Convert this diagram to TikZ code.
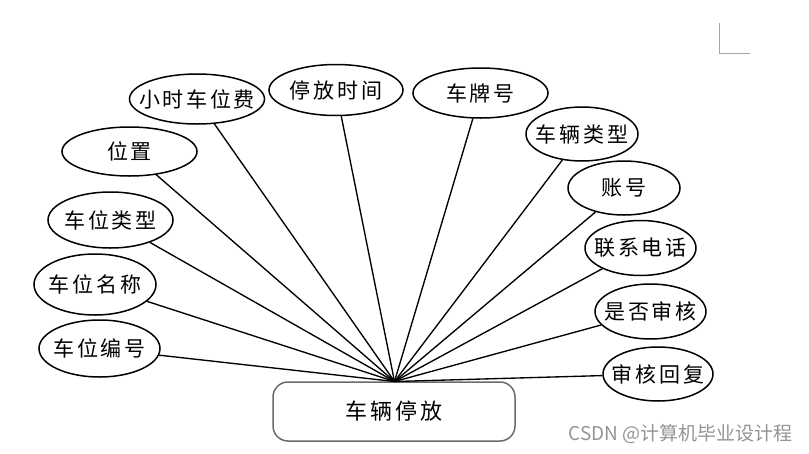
\documentclass[tikz,border=0pt]{standalone}
\usepackage{fontspec}
\newfontfamily\cjk{Noto Sans CJK SC}
\newfontfamily\cjksp[LetterSpace=13]{Noto Sans CJK SC}
\usetikzlibrary{shapes.geometric}
\begin{document}
\begin{tikzpicture}[x=1pt,y=-1pt,
  attr/.style={ellipse, draw, line width=1.5pt, inner sep=0pt, fill=white,
    font=\cjksp\fontsize{21}{22}\selectfont},
  entity/.style={rectangle, rounded corners=15pt, draw=black!58, line width=1.5pt,
    inner sep=0pt, minimum width=242pt, minimum height=59pt,
    font=\cjksp\fontsize{22}{23}\selectfont},
  link/.style={line width=1.35pt},
  cornermark/.style={draw=black!35, line width=0.8pt},
  wm/.style={text=black!42, inner sep=0pt, font=\cjk\fontsize{19}{20}\selectfont}]
\useasboundingbox (0,0) rectangle (809,453);
% central entity
\node[entity] (car) at (394,411.5) {\makebox[0pt]{车辆停放}};
\coordinate (hub) at (394.5,381.5);
% attributes
\node[attr, minimum width=135pt, minimum height=50pt] (a1) at (197,99) {\makebox[0pt]{小时车位费}};
\node[attr, minimum width=134pt, minimum height=51pt] (a2) at (336,90) {\makebox[0pt]{停放时间}};
\node[attr, minimum width=135pt, minimum height=50pt] (a3) at (480.5,93) {\makebox[0pt]{车牌号}};
\node[attr, minimum width=112pt, minimum height=54pt] (a4) at (582,134) {\makebox[0pt]{车辆类型}};
\node[attr, minimum width=112pt, minimum height=54pt] (a5) at (624,188) {\makebox[0pt]{账号}};
\node[attr, minimum width=111pt, minimum height=55pt] (a6) at (640.5,248) {\makebox[0pt]{联系电话}};
\node[attr, minimum width=111pt, minimum height=55pt] (a7) at (650.5,311.5) {\makebox[0pt]{是否审核}};
\node[attr, minimum width=110pt, minimum height=54pt] (a8) at (658,374) {\makebox[0pt]{审核回复}};
\node[attr, minimum width=135pt, minimum height=49pt] (b1) at (129.5,151.5) {\makebox[0pt]{位置}};
\node[attr, minimum width=125pt, minimum height=56pt] (b2) at (110.5,220) {\makebox[0pt]{车位类型}};
\node[attr, minimum width=122pt, minimum height=61pt] (b3) at (95,284.5) {\makebox[0pt]{车位名称}};
\node[attr, minimum width=121pt, minimum height=57pt] (b4) at (99.5,348.5) {\makebox[0pt]{车位编号}};
% connectors
\foreach \n in {a1,a2,a3,a4,a5,a6,a7,a8,b1,b2,b3,b4}
  \draw[link] (\n) -- (hub);
% page corner mark
\coordinate (m1) at (719,23);
\coordinate (m2) at (719,53);
\coordinate (m3) at (750,53);
\draw[cornermark] (m1) -- (m2) -- (m3);
% watermark
\node[wm, anchor=east] (wmark) at (793,434) {CSDN @计算机毕业设计程};
\end{tikzpicture}
\end{document}
